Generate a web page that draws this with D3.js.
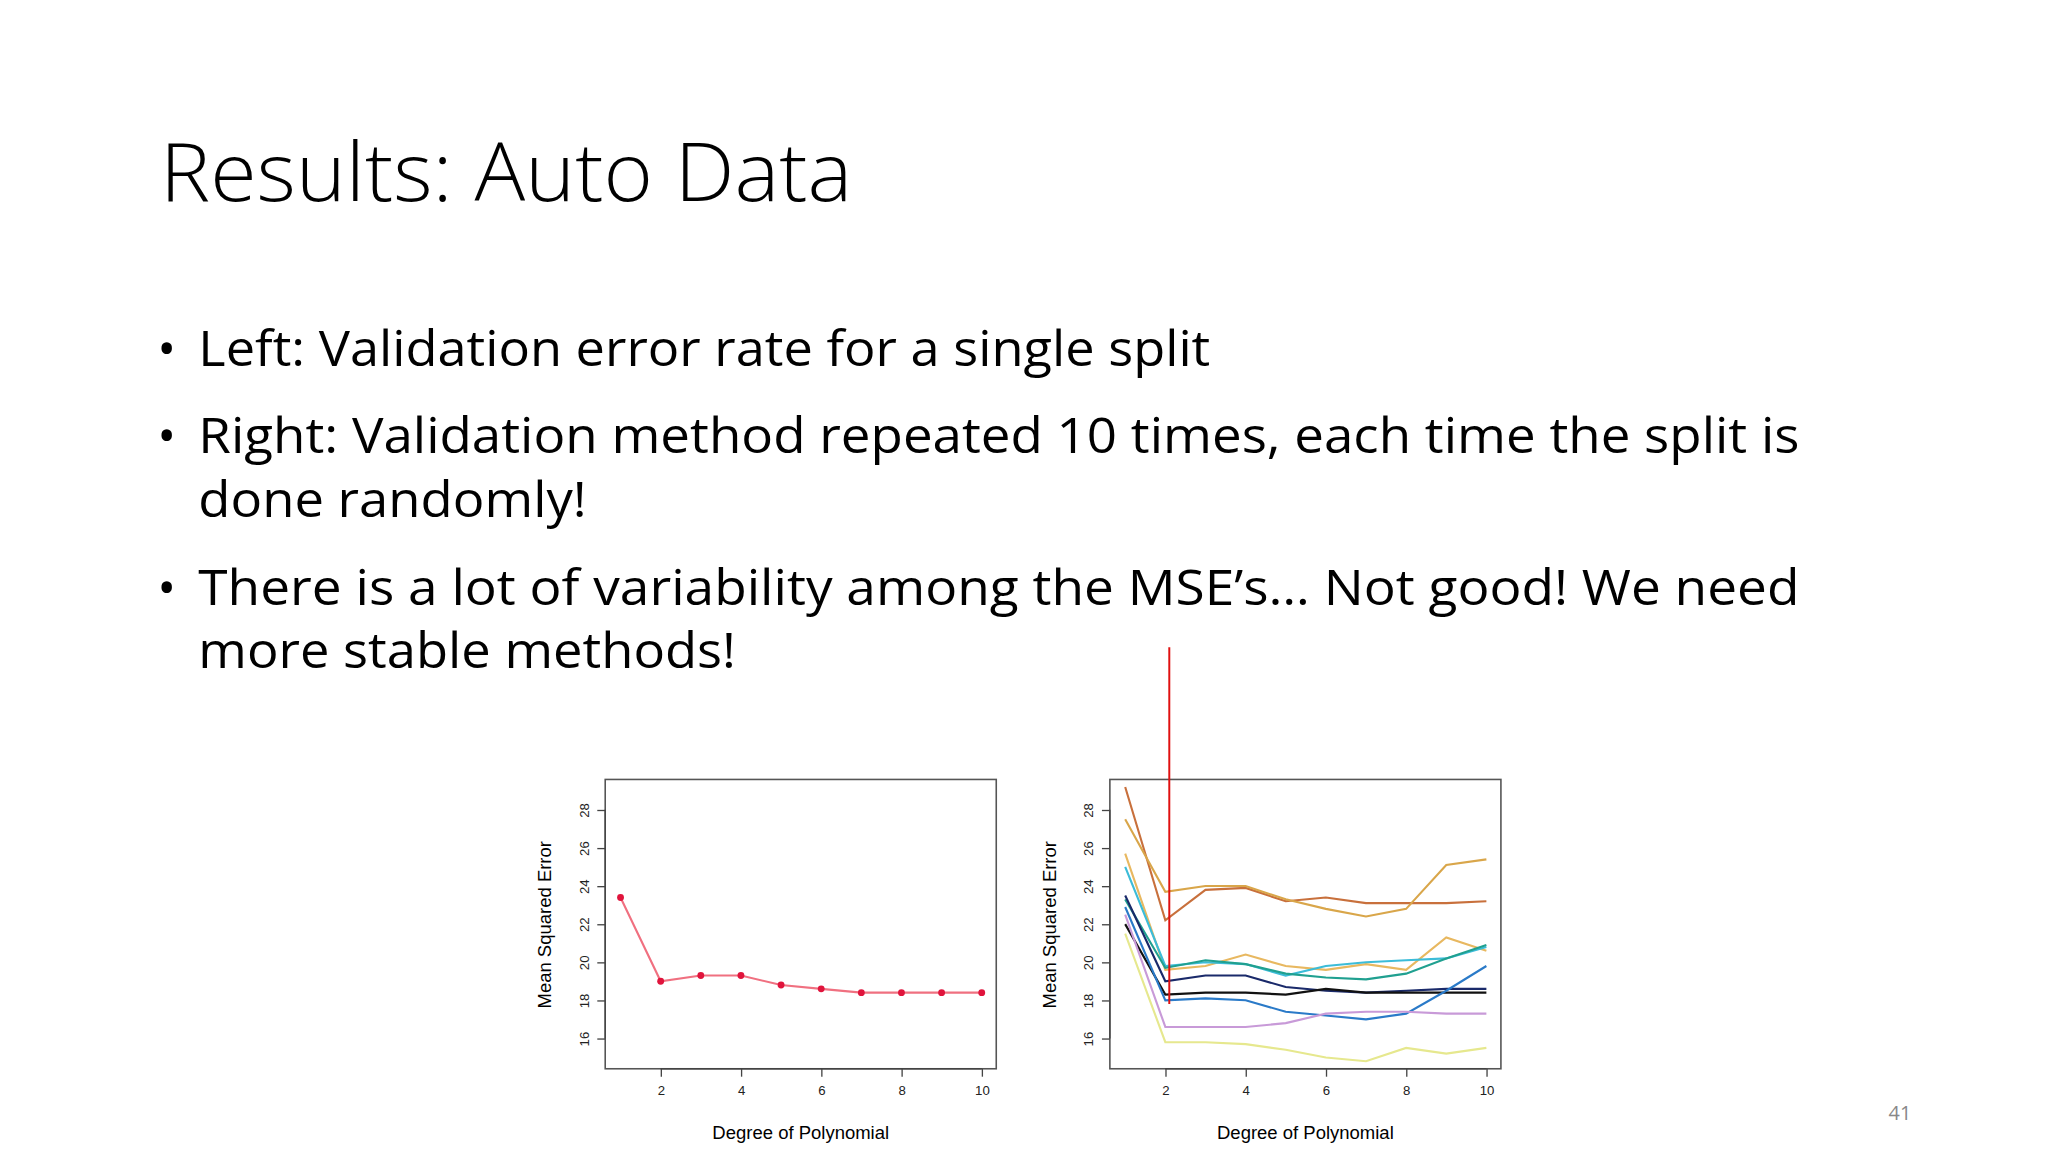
<!DOCTYPE html>
<html>
<head>
<meta charset="utf-8"/>
<script src="https://cdn.jsdelivr.net/npm/d3@7"></script>
<style>
 body{margin:0;background:#fff;}
 .axis text{font-family:"Liberation Sans",Arial,sans-serif;font-size:10px;fill:#222;}
 .axis path,.axis line{stroke:#444;stroke-width:1;}
</style>
</head>
<body>
<svg id="slide" width="2048" height="1152" viewBox="0 0 1550 872"></svg>
<script>
var degrees=[1,2,3,4,5,6,7,8,9,10];
var xTicks=[2,4,6,8,10];
var yTicks=[16,18,20,22,24,26,28];
var singleSplit=[23.4,19.0,19.3,19.3,18.8,18.6,18.4,18.4,18.4,18.4];
var repeatColors=["#c8703c","#d9a64a","#e8b860","#3cbcd8","#20a090","#1a2a6a","#111111","#2a7ac8","#c89ad8","#e6e88e"];
var repeatSplits=[
 [29.2,22.2,23.8,23.9,23.2,23.4,23.1,23.1,23.1,23.2],
 [27.5,23.7,24.0,24.0,23.3,22.8,22.4,22.8,25.1,25.4],
 [25.7,19.6,19.8,20.4,19.8,19.6,19.9,19.6,21.3,20.6],
 [25.0,19.8,20.0,19.9,19.3,19.8,20.0,20.1,20.2,20.8],
 [23.3,19.7,20.1,19.9,19.4,19.2,19.1,19.4,20.2,20.9],
 [23.5,19.0,19.3,19.3,18.7,18.5,18.4,18.5,18.6,18.6],
 [22.0,18.3,18.4,18.4,18.3,18.6,18.4,18.4,18.4,18.4],
 [22.9,18.0,18.1,18.0,17.4,17.2,17.0,17.3,18.5,19.8],
 [22.5,16.6,16.6,16.6,16.8,17.3,17.4,17.4,17.3,17.3],
 [21.5,15.8,15.8,15.7,15.4,15.0,14.8,15.5,15.2,15.5]
];
var bullets=[
 {lines:["Left: Validation error rate for a single split"],y:277},
 {lines:["Right: Validation method repeated 10 times, each time the split is","done randomly!"],y:343},
 {lines:["There is a lot of variability among the MSE\u2019s\u2026 Not good! We need","more stable methods!"],y:458}
];

var svg=d3.select("#slide");
svg.append("text").attr("x",121).attr("y",152)
  .style("font-family","'Open Sans',sans-serif").style("font-weight",300)
  .style("font-size","62px").attr("textLength",524).attr("lengthAdjust","spacingAndGlyphs")
  .text("Results: Auto Data");

var widths=[[766],[1212,294],[1212,407]];
bullets.forEach(function(b,i){
  svg.append("text").attr("x",119).attr("y",b.y).style("font-family","'Open Sans',sans-serif")
    .style("font-size","38px").text("\u2022");
  b.lines.forEach(function(l,j){
    svg.append("text").attr("x",150).attr("y",b.y+j*48)
      .style("font-family","'Open Sans',sans-serif").style("font-size","38px")
      .attr("textLength",widths[i][j]).attr("lengthAdjust","spacingAndGlyphs").text(l);
  });
});

function panel(left,series,colors,points){
  var x=d3.scaleLinear().domain([1,10]).range([left+11.6,left+285]);
  var y=d3.scaleLinear().domain([16,28]).range([786,613]);
  var g=svg.append("g");
  g.append("rect").attr("x",left).attr("y",590).attr("width",296).attr("height",219)
    .attr("fill","none").attr("stroke","#555").attr("stroke-width",1.2);
  g.append("g").attr("class","axis").attr("transform","translate(0,809)")
    .call(d3.axisBottom(x).tickValues(xTicks).tickSize(6).tickSizeOuter(0))
    .call(function(a){a.select(".domain").attr("d","M"+x(2)+",0H"+x(10));a.selectAll("text").attr("dy","1.1em");});
  var ya=g.append("g").attr("class","axis").attr("transform","translate("+left+",0)")
    .call(d3.axisLeft(y).tickValues(yTicks).tickSize(6).tickSizeOuter(0));
  ya.select(".domain").attr("d","M0,"+y(16)+"V"+y(28));
  ya.selectAll(".tick text").attr("x",-16).attr("dy","0.35em")
    .attr("transform",function(){return "rotate(-90,"+(-16)+",0)";}).style("text-anchor","middle");
  g.append("text").attr("x",left+148).attr("y",862).attr("text-anchor","middle")
    .style("font-family","'Liberation Sans',Arial,sans-serif").style("font-size","14px").text("Degree of Polynomial");
  g.append("text").attr("transform","translate("+(left-41)+",700) rotate(-90)").attr("text-anchor","middle")
    .style("font-family","'Liberation Sans',Arial,sans-serif").style("font-size","14px").text("Mean Squared Error");
  var line=d3.line().x(function(d,i){return x(degrees[i]);}).y(function(d){return y(d);});
  series.forEach(function(s,k){
    g.append("path").attr("d",line(s)).attr("fill","none").attr("stroke",colors[k]).attr("stroke-width",1.6);
    if(points){
      g.selectAll(null).data(s).enter().append("circle")
        .attr("cx",function(d,i){return x(degrees[i]);}).attr("cy",function(d){return y(d);})
        .attr("r",2.6).attr("fill","#e0143c");
    }
  });
  return {x:x,y:y};
}
panel(458,[singleSplit],["#f07080"],true);
var right=panel(840,repeatSplits,repeatColors,false);

svg.append("line").attr("x1",right.x(2)+3).attr("x2",right.x(2)+3).attr("y1",490).attr("y2",760)
  .attr("stroke","#e01010").attr("stroke-width",1.5);
svg.append("text").attr("x",1438).attr("y",848).attr("text-anchor","middle")
  .style("font-family","'Open Sans',sans-serif").style("font-size","15px").style("fill","#888").text("41");
</script>
</body>
</html>
